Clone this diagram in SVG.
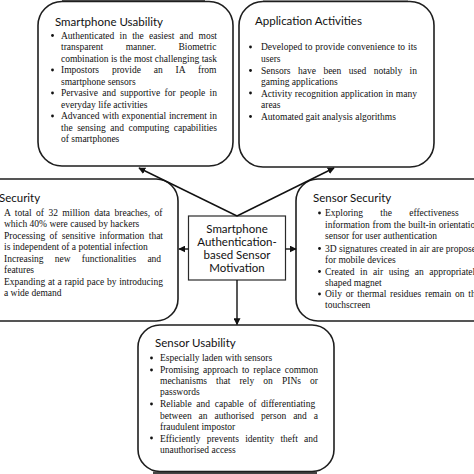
<svg xmlns="http://www.w3.org/2000/svg" width="474" height="474" viewBox="0 0 474 474">
<style>
.box{fill:#fff;stroke:#1e1e1e;stroke-width:1.6}
.cbox{fill:#fff;stroke:#2a2a2a;stroke-width:1.2}
.ttl{font-family:Lato,"Liberation Sans",sans-serif;font-size:11.5px;fill:#111}
.ctr{font-family:Lato,"Liberation Sans",sans-serif;font-size:11.5px;fill:#111;text-anchor:middle}
.bd{font-family:"Liberation Serif","Times New Roman",serif;font-size:9.5px;fill:#111}
.bl{fill:#111}
.con{stroke:#111;stroke-width:1.4;fill:none}
</style>
<defs>
<marker id="ah" viewBox="0 0 10 10" refX="9" refY="5" markerWidth="7" markerHeight="7" markerUnits="userSpaceOnUse" orient="auto">
<path d="M0,0 L10,5 L0,10 z" fill="#111"/>
</marker>
</defs>
<rect width="474" height="474" fill="#fff"/>
<rect x="62" y="0" width="143" height="2.5" fill="#555"/>
<rect x="263" y="0" width="145" height="2.5" fill="#aaa"/>
<rect x="153" y="471.5" width="164" height="2.5" fill="#444"/>

<g id="smartphone-usability">
<rect class="box" x="38" y="1.5" width="195" height="164.5" rx="24"/>
<text class="ttl" x="55" y="26">Smartphone Usability</text>
<g class="bl"><circle cx="52.5" cy="35.5" r="1.4"/><circle cx="52.5" cy="70" r="1.4"/><circle cx="52.5" cy="93" r="1.4"/><circle cx="52.5" cy="116" r="1.4"/></g>
<text class="bd" x="61" y="38.5" word-spacing="2.86">Authenticated in the easiest and most</text>
<text class="bd" x="61" y="50" word-spacing="20.09">transparent manner. Biometric</text>
<text class="bd" x="61" y="61.5" word-spacing="0.11">combination is the most challenging task</text>
<text class="bd" x="61" y="73" word-spacing="10.5">Impostors provide an IA from</text>
<text class="bd" x="61" y="84.5">smartphone sensors</text>
<text class="bd" x="61" y="96" word-spacing="1.91">Pervasive and supportive for people in</text>
<text class="bd" x="61" y="107.5">everyday life activities</text>
<text class="bd" x="61" y="119" word-spacing="0.35">Advanced with exponential increment in</text>
<text class="bd" x="61" y="130.5" word-spacing="2.19">the sensing and computing capabilities</text>
<text class="bd" x="61" y="142">of smartphones</text>
</g>

<g id="application-activities">
<rect class="box" x="239" y="1.5" width="195" height="165.5" rx="24"/>
<text class="ttl" x="255" y="25">Application Activities</text>
<g class="bl"><circle cx="250.5" cy="47" r="1.4"/><circle cx="250.5" cy="70.5" r="1.4"/><circle cx="250.5" cy="93" r="1.4"/><circle cx="250.5" cy="116.5" r="1.4"/></g>
<text class="bd" x="261" y="50" word-spacing="0.54">Developed to provide convenience to its</text>
<text class="bd" x="261" y="61.5">users</text>
<text class="bd" x="261" y="73.5" word-spacing="5.08">Sensors have been used notably in</text>
<text class="bd" x="261" y="84.5">gaming applications</text>
<text class="bd" x="261" y="96.5" word-spacing="0.34">Activity recognition application in many</text>
<text class="bd" x="261" y="107.5">areas</text>
<text class="bd" x="261" y="119.5">Automated gait analysis algorithms</text>
</g>

<g id="security">
<rect class="box" x="-22" y="179" width="200" height="142" rx="22"/>
<text class="ttl" x="-1" y="202">Security</text>
<text class="bd" x="4" y="216" word-spacing="2.06">A total of 32 million data breaches, of</text>
<text class="bd" x="4" y="227">which 40% were caused by hackers</text>
<text class="bd" x="4" y="239" word-spacing="2.02">Processing of sensitive information that</text>
<text class="bd" x="4" y="250">is independent of a potential infection</text>
<text class="bd" x="4" y="262" word-spacing="8.84">Increasing new functionalities and</text>
<text class="bd" x="4" y="273">features</text>
<text class="bd" x="4" y="284.5" word-spacing="0.38">Expanding at a rapid pace by introducing</text>
<text class="bd" x="4" y="295.5">a wide demand</text>
</g>

<g id="sensor-security">
<rect class="box" x="296" y="179" width="210" height="142" rx="22"/>
<text class="ttl" x="313" y="202">Sensor Security</text>
<g class="bl"><circle cx="319.5" cy="213" r="1.4"/><circle cx="319.5" cy="248.5" r="1.4"/><circle cx="319.5" cy="271.5" r="1.4"/><circle cx="319.5" cy="294" r="1.4"/></g>
<text class="bd" x="325" y="216" word-spacing="14.92">Exploring the effectiveness of</text>
<text class="bd" x="325" y="227.5" word-spacing="0.36">information from the built-in orientation</text>
<text class="bd" x="325" y="239">sensor for user authentication</text>
<text class="bd" x="325" y="251.5">3D signatures created in air are proposed</text>
<text class="bd" x="325" y="262.5">for mobile devices</text>
<text class="bd" x="325" y="274.5" word-spacing="3.19">Created in air using an appropriately</text>
<text class="bd" x="325" y="285.5">shaped magnet</text>
<text class="bd" x="325" y="296.5" word-spacing="1.38">Oily or thermal residues remain on the</text>
<text class="bd" x="325" y="307.5">touchscreen</text>
</g>

<g id="center">
<rect class="cbox" x="188.5" y="216" width="97" height="64"/>
<text class="ctr" x="237" y="233">Smartphone</text>
<text class="ctr" x="237" y="246">Authentication-</text>
<text class="ctr" x="237" y="259">based Sensor</text>
<text class="ctr" x="237" y="272">Motivation</text>
</g>

<g id="sensor-usability">
<rect class="box" x="138" y="325" width="196" height="146.5" rx="22"/>
<text class="ttl" x="155" y="347">Sensor Usability</text>
<g class="bl"><circle cx="151.5" cy="358" r="1.4"/><circle cx="151.5" cy="370" r="1.4"/><circle cx="151.5" cy="404" r="1.4"/><circle cx="151.5" cy="438" r="1.4"/></g>
<text class="bd" x="160" y="361">Especially laden with sensors</text>
<text class="bd" x="160" y="373" word-spacing="1.64">Promising approach to replace common</text>
<text class="bd" x="160" y="384" word-spacing="6.74">mechanisms that rely on PINs or</text>
<text class="bd" x="160" y="395">passwords</text>
<text class="bd" x="160" y="407" word-spacing="2.3">Reliable and capable of differentiating</text>
<text class="bd" x="160" y="418.5" word-spacing="4.53">between an authorised person and a</text>
<text class="bd" x="160" y="430">fraudulent impostor</text>
<text class="bd" x="160" y="441.5" word-spacing="3.88">Efficiently prevents identity theft and</text>
<text class="bd" x="160" y="452.5">unauthorised access</text>
</g>

<g id="connectors">
<line class="con" x1="237" y1="216" x2="139" y2="168" marker-end="url(#ah)"/>
<line class="con" x1="237" y1="216" x2="334" y2="168" marker-end="url(#ah)"/>
<line class="con" x1="188.5" y1="249" x2="179" y2="249" marker-end="url(#ah)"/>
<line class="con" x1="285.5" y1="249" x2="296" y2="249" marker-end="url(#ah)"/>
<line class="con" x1="237" y1="280" x2="237" y2="324.5" marker-end="url(#ah)"/>
</g>
</svg>
